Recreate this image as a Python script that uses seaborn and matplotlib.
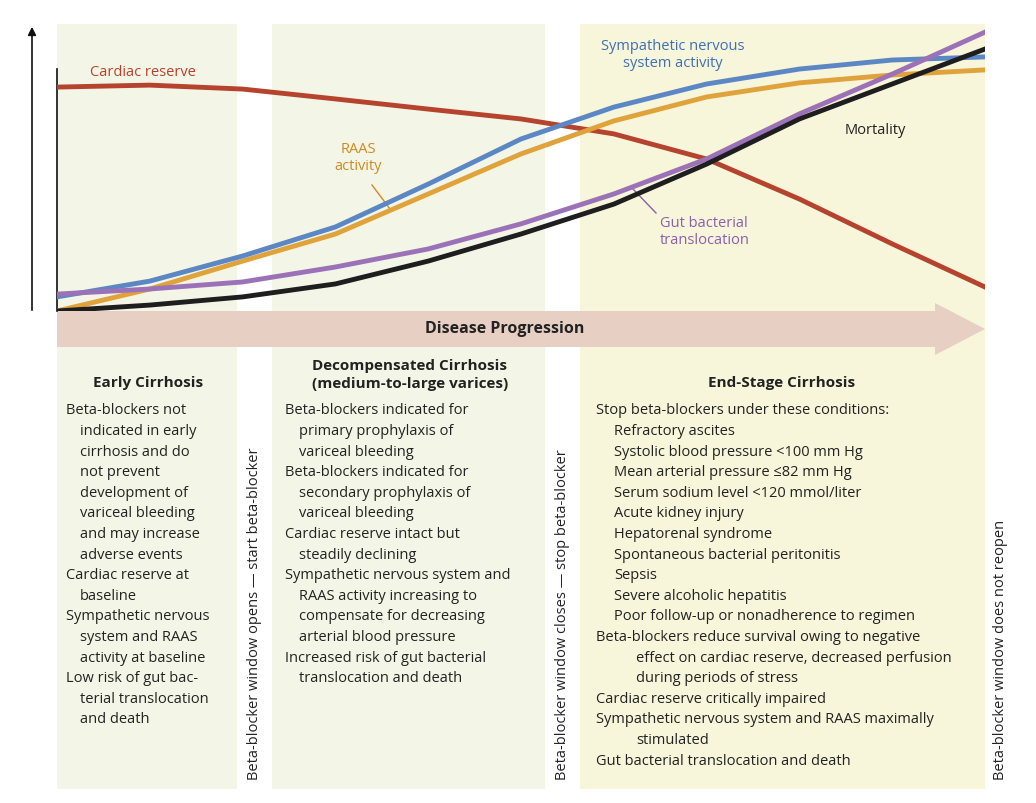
import numpy as np
import pandas as pd
import matplotlib
matplotlib.use("Agg")
import matplotlib.pyplot as plt
import seaborn as sns
from matplotlib.patches import Rectangle, FancyArrow

FONT = "Open Sans"

PROGRESS = [0, 10, 20, 30, 40, 50, 60, 70, 80, 90, 100]
CARDIAC = [79.4, 80.1, 78.7, 75.2, 71.6, 68.1, 62.8, 53.9, 39.7, 23.8, 8.5]
SYMPATHETIC = [5.0, 10.6, 19.5, 29.8, 45.0, 61.0, 72.3, 80.5, 85.8, 89.0, 90.1]
RAAS = [0.0, 7.8, 17.7, 27.3, 41.5, 55.7, 67.4, 75.9, 80.9, 83.7, 85.5]
GUT = [6.0, 7.8, 10.3, 15.6, 22.0, 30.9, 41.5, 53.9, 69.9, 84.0, 98.9]
MORTALITY = [0.0, 2.1, 5.0, 9.6, 17.7, 27.3, 37.9, 52.1, 68.1, 80.5, 92.9]

SERIES = {"Cardiac reserve": (CARDIAC, "#b5432e"),
          "RAAS": (RAAS, "#e0a23a"),
          "Sympathetic": (SYMPATHETIC, "#5b87c5"),
          "Gut": (GUT, "#9b72b8"),
          "Mortality": (MORTALITY, "#1e1e1e")}

EARLY_TITLE = "Early Cirrhosis"
EARLY_LINES = [(0, "Beta-blockers not"), (1, "indicated in early"), (1, "cirrhosis and do"),
               (1, "not prevent"), (1, "development of"), (1, "variceal bleeding"),
               (1, "and may increase"), (1, "adverse events"), (0, "Cardiac reserve at"),
               (1, "baseline"), (0, "Sympathetic nervous"), (1, "system and RAAS"),
               (1, "activity at baseline"), (0, "Low risk of gut bac-"),
               (1, "terial translocation"), (1, "and death")]
DECOMP_TITLE = "Decompensated Cirrhosis\n(medium-to-large varices)"
DECOMP_LINES = [(0, "Beta-blockers indicated for"), (1, "primary prophylaxis of"),
                (1, "variceal bleeding"), (0, "Beta-blockers indicated for"),
                (1, "secondary prophylaxis of"), (1, "variceal bleeding"),
                (0, "Cardiac reserve intact but"), (1, "steadily declining"),
                (0, "Sympathetic nervous system and"), (1, "RAAS activity increasing to"),
                (1, "compensate for decreasing"), (1, "arterial blood pressure"),
                (0, "Increased risk of gut bacterial"), (1, "translocation and death")]
END_TITLE = "End-Stage Cirrhosis"
END_LINES = [(0, "Stop beta-blockers under these conditions:"), (1, "Refractory ascites"),
             (1, "Systolic blood pressure <100 mm Hg"), (1, "Mean arterial pressure \u226482 mm Hg"),
             (1, "Serum sodium level <120 mmol/liter"), (1, "Acute kidney injury"),
             (1, "Hepatorenal syndrome"), (1, "Spontaneous bacterial peritonitis"),
             (1, "Sepsis"), (1, "Severe alcoholic hepatitis"),
             (1, "Poor follow-up or nonadherence to regimen"),
             (0, "Beta-blockers reduce survival owing to negative"),
             (2, "effect on cardiac reserve, decreased perfusion"),
             (2, "during periods of stress"), (0, "Cardiac reserve critically impaired"),
             (0, "Sympathetic nervous system and RAAS maximally"), (2, "stimulated"),
             (0, "Gut bacterial translocation and death")]

fig = plt.figure(figsize=(10.36, 8.04), dpi=100)
bg = fig.add_axes([0, 0, 1, 1])
bg.set_xlim(0, 1036)
bg.set_ylim(804, 0)
bg.axis("off")

GREEN = "#f3f6e6"
YELLOW = "#f7f5da"
bg.add_patch(Rectangle((57, 25), 180, 765, color=GREEN, lw=0))
bg.add_patch(Rectangle((272, 25), 273, 765, color=GREEN, lw=0))
bg.add_patch(Rectangle((580, 25), 405, 765, color=YELLOW, lw=0))

bg.add_patch(FancyArrow(57, 330, 928, 0, width=36, head_width=52, head_length=50,
                        length_includes_head=True, color="#e8cfc3", lw=0))
bg.text(505, 329, "Disease Progression", ha="center", va="center", fontsize=11.5,
        fontweight="bold", family=FONT, color="#222")

bg.annotate("", xy=(32, 25), xytext=(32, 314),
            arrowprops=dict(arrowstyle="-|>", color="#111", lw=1.2, mutation_scale=12))
bg.plot([57, 57], [70, 312], color="#111", lw=1.2)

def block(x, title, lines, indents):
    bg.text(x[1], 383 if "\n" not in title else 375, title, ha="center", va="center",
            fontsize=11, fontweight="bold", family=FONT, color="#222", linespacing=1.3)
    for i, (lvl, s) in enumerate(lines):
        bg.text(x[0] + indents[lvl], 411 + i * 20.6, s, ha="left", va="center",
                fontsize=10.5, family=FONT, color="#222")

block((66, 148), EARLY_TITLE, EARLY_LINES, [0, 14, 14])
block((285, 410), DECOMP_TITLE, DECOMP_LINES, [0, 14, 14])
block((596, 782), END_TITLE, END_LINES, [0, 18, 40])

for xp, s in [(255, "Beta-blocker window opens \u2014 start beta-blocker"),
              (563, "Beta-blocker window closes \u2014 stop beta-blocker"),
              (1000, "Beta-blocker window does not reopen")]:
    bg.text(xp, 780, s, rotation=90, ha="center", va="bottom", fontsize=10.5,
            family=FONT, color="#222")

# curve labels
bg.text(90, 72, "Cardiac reserve", ha="left", va="center", fontsize=10.5, family=FONT, color="#b5432e")
bg.text(673, 55, "Sympathetic nervous\nsystem activity", ha="center", va="center",
        fontsize=10.5, family=FONT, color="#3f6fb5", linespacing=1.1)
bg.text(358, 158, "RAAS\nactivity", ha="center", va="center", fontsize=10.5,
        family=FONT, color="#d08a20", linespacing=1.1)
bg.plot([372, 390], [186, 210], color="#d08a20", lw=1)
bg.text(875, 130, "Mortality", ha="center", va="center", fontsize=10.5, family=FONT, color="#222")
bg.text(660, 232, "Gut bacterial\ntranslocation", ha="left", va="center", fontsize=10.5,
        family=FONT, color="#8a60aa", linespacing=1.1)
bg.plot([633, 656], [190, 214], color="#8a60aa", lw=1)

# curves
ax = fig.add_axes([57 / 1036, (804 - 312) / 804, 928 / 1036, 282 / 804])
ax.patch.set_alpha(0)
for name, (vals, col) in SERIES.items():
    df = pd.DataFrame({"progress": PROGRESS, "level": vals})
    sns.lineplot(data=df, x="progress", y="level", color=col, lw=3.5, ax=ax)
ax.set_xlim(0, 100)
ax.set_ylim(0, 100)
ax.axis("off")

fig.savefig("out.png", dpi=100)
